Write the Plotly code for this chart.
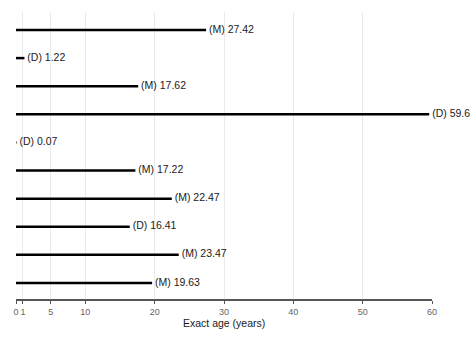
import plotly.graph_objects as go

# Exact ages per record, listed top to bottom, with the record type
ages = [27.42, 1.22, 17.62, 59.6, 0.07, 17.22, 22.47, 16.41, 23.47, 19.63]
kinds = ["M", "D", "M", "D", "D", "M", "M", "D", "M", "M"]
tick_vals = [0, 1, 5, 10, 20, 30, 40, 50, 60]
x_title = "Exact age (years)"

n = len(ages)
rows = list(range(n - 1, -1, -1))  # first record at the top
labels = [f" ({k}) {a}" for k, a in zip(kinds, ages)]

# one segment per record, from 0 to its age
seg_x, seg_y = [], []
for a, r in zip(ages, rows):
    seg_x += [0, a, None]
    seg_y += [r, r, None]

fig = go.Figure()
fig.add_trace(go.Scatter(
    x=seg_x, y=seg_y, mode="lines",
    line=dict(color="black", width=2.5),
    hoverinfo="skip", showlegend=False, cliponaxis=False,
))
fig.add_trace(go.Scatter(
    x=ages, y=rows, mode="text", text=labels,
    textposition="middle right",
    textfont=dict(family="Liberation Sans, Arial, sans-serif", size=10.5, color="#1a1a1a"),
    cliponaxis=False, hoverinfo="skip", showlegend=False,
))

fig.update_layout(
    width=474, height=338,
    margin=dict(l=16, r=42, t=12, b=39, autoexpand=False),
    plot_bgcolor="white", paper_bgcolor="white",
    font=dict(family="Liberation Sans, Arial, sans-serif"),
    xaxis=dict(
        range=[0, 60], tickvals=tick_vals, ticktext=[str(t) for t in tick_vals],
        tickangle=0, automargin=False,
        showgrid=True, gridcolor="#ebebeb", gridwidth=1,
        showline=True, linecolor="#555555", linewidth=1.5,
        ticks="outside", ticklen=3, tickcolor="#555555",
        tickfont=dict(size=9, color="#666666"),
        zeroline=False,
    ),
    yaxis=dict(
        range=[-0.57, n - 1 + 0.64], visible=False,
    ),
    annotations=[dict(
        text=x_title, xref="paper", yref="paper", x=0.5, y=-0.083,
        xanchor="center", yanchor="middle", showarrow=False,
        font=dict(size=10.5, color="#1a1a1a"),
    )],
)

fig.write_html("out.html")
